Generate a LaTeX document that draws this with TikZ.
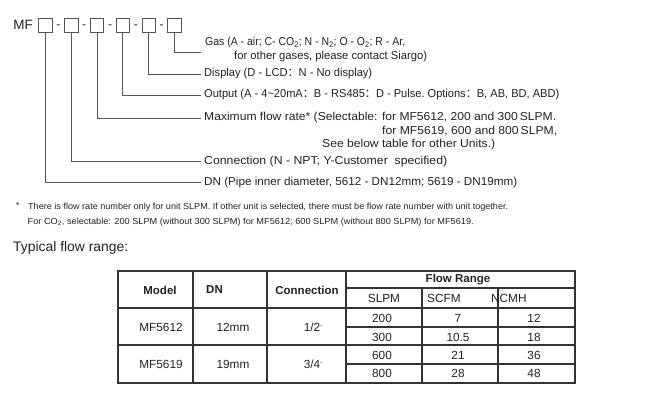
\documentclass[tikz,border=0pt]{standalone}
\usepackage{graphicx}
\usepackage{fontspec}
\setmainfont{Liberation Sans}
\newfontfamily\cjk{Noto Sans CJK SC}
\newcommand{\fwc}{{\cjk ：}}
\newcommand{\fitw}[2]{\resizebox{#1}{\height}{#2}}
\newcommand{\inchmark}{\raisebox{0.35em}{\fontsize{6}{6}\selectfont -}}
\definecolor{txt}{HTML}{222222}
\definecolor{cline}{HTML}{555555}
\definecolor{tline}{HTML}{333333}
\tikzset{
  lbl/.style={anchor=west,inner xsep=3pt,inner ysep=0pt,text=txt,font=\fontsize{11.5}{13}\selectfont},
  plain/.style={anchor=west,inner sep=0pt,text=txt,font=\fontsize{11.5}{13}\selectfont},
  cbox/.style={draw=cline,line width=0.9pt,minimum width=13.5pt,minimum height=14pt,inner sep=0pt},
  conn/.style={draw=cline,line width=0.9pt},
  foot/.style={anchor=west,inner sep=0pt,text=txt,font=\fontsize{8.8}{10}\selectfont},
  tb/.style={text=txt,inner sep=0pt,font=\fontsize{11.8}{13}\selectfont},
  tbh/.style={text=txt,inner sep=0pt,font=\fontsize{11.5}{13}\selectfont\bfseries},
  tl/.style={draw=tline,line width=1.3pt},
}
\begin{document}
\begin{tikzpicture}[x=1pt,y=-1pt]
\useasboundingbox (0,0) rectangle (650,403);
% code header
\node[text=txt,inner sep=0pt,font=\fontsize{13.5}{14}\selectfont] (mf) at (23,24.5) {MF};
\foreach \i/\x in {1/45.5,2/71.3,3/97.1,4/122.9,5/148.7,6/174.5}{
  \node[cbox] (b\i) at (\x,25) {};
}
\foreach \i/\x in {1/58.4,2/84.2,3/110.0,4/135.8,5/161.6}{
  \node[text=txt,inner sep=0pt,anchor=base,font=\fontsize{12}{12}\selectfont] (d\i) at (\x,28.5) {-};
}
% labels
\node[plain] (tgas1) at (205,43) {\fitw{200pt}{Gas (A - air; C- CO\textsubscript{2}; N - N\textsubscript{2}; O - O\textsubscript{2}; R - Ar,}};
\node[plain] (tgas2) at (234,56.5) {\fitw{193pt}{for other gases, please contact Siargo)}};
\coordinate (gasend) at (201,52);
\node[lbl] (tdisp) at (201,74) {\fitw{168pt}{Display (D - LCD\fwc N - No display)}};
\node[lbl] (tout) at (201,95) {\fitw{355pt}{Output (A - 4\textasciitilde 20mA\fwc B - RS485\fwc D - Pulse.\ Options\fwc B, AB, BD, ABD)}};
\node[lbl] (tmax) at (201,118) {\fitw{352pt}{Maximum flow rate* (Selectable: for MF5612, 200 and 300\,SLPM.}};
\node[plain] (tmax2) at (382,131.5) {\fitw{175pt}{for MF5619, 600 and 800\,SLPM,}};
\node[plain] (tmax3) at (322,145) {\fitw{173pt}{See below table for other Units.)}};
\node[lbl] (tconn) at (201,161.5) {\fitw{243pt}{Connection (N - NPT; Y-Customer\ \ specified)}};
\node[lbl] (tdn) at (201,182.5) {\fitw{313pt}{DN (Pipe inner diameter, 5612 - DN12mm; 5619 - DN19mm)}};
% connectors
\draw[conn] (b6.south) |- (gasend);
\draw[conn] (b5.south) |- (tdisp.west);
\draw[conn] (b4.south) |- (tout.west);
\draw[conn] (b3.south) |- (tmax.west);
\draw[conn] (b2.south) |- (tconn.west);
\draw[conn] (b1.south) |- (tdn.west);
% footnote
\node[foot] (ast) at (16,205.5) {*};
\node[foot] (f1) at (28,207.5) {\fitw{480pt}{There is flow rate number only for unit SLPM. If other unit is selected, there must be flow rate number with unit together.}};
\node[foot] (f2) at (27.5,222) {\fitw{446pt}{For CO\textsubscript{2}, selectable: 200 SLPM (without 300 SLPM) for MF5612; 600 SLPM (without 800 SLPM) for MF5619.}};
% title
\node[anchor=west,inner sep=0pt,text=txt,font=\fontsize{13.8}{15}\selectfont] (title) at (13,248) {\fitw{115pt}{Typical flow range:}};
% table
\draw[tl] (118,271) rectangle (575,383);
\draw[tl] (193,271) -- (193,383);
\draw[tl] (267,271) -- (267,383);
\draw[tl] (346,271) -- (346,383);
\draw[tl] (118,308) -- (575,308);
\draw[tl] (118,345) -- (575,345);
\draw[tl] (346,288) -- (575,288);
\draw[tl] (346,327) -- (575,327);
\draw[tl] (346,364) -- (575,364);
\draw[tl] (422,288) -- (422,383);
\draw[tl] (498,288) -- (498,383);
\node[tbh] (hmodel) at (160,290) {Model};
\node[tbh,anchor=west] (hdn) at (206,290) {DN};
\node[tbh] (hconn) at (307,290) {Connection};
\node[tbh] (hflow) at (458,279.5) {Flow Range};
\node[tb] (hslpm) at (384,298.5) {SLPM};
\node[tb,anchor=west] (hscfm) at (427,298.5) {SCFM};
\node[tb,anchor=west] (hncmh) at (491,298.5) {NCMH};
\node[tb] (m1) at (161,327) {MF5612};
\node[tb] (dn1) at (233,327) {12mm};
\node[tb] (c1) at (313,327) {1/2\inchmark};
\node[tb] (m2) at (161,364.5) {MF5619};
\node[tb] (dn2) at (233,364.5) {19mm};
\node[tb] (c2) at (313,364.5) {3/4\inchmark};
\foreach \r/\y/\a/\b/\c in {1/318/200/7/12,2/337/300/10.5/18,3/355.5/600/21/36,4/373.5/800/28/48}{
  \node[tb] (v\r a) at (382,\y) {\a};
  \node[tb] (v\r b) at (458,\y) {\b};
  \node[tb] (v\r c) at (534,\y) {\c};
}
\end{tikzpicture}
\end{document}
